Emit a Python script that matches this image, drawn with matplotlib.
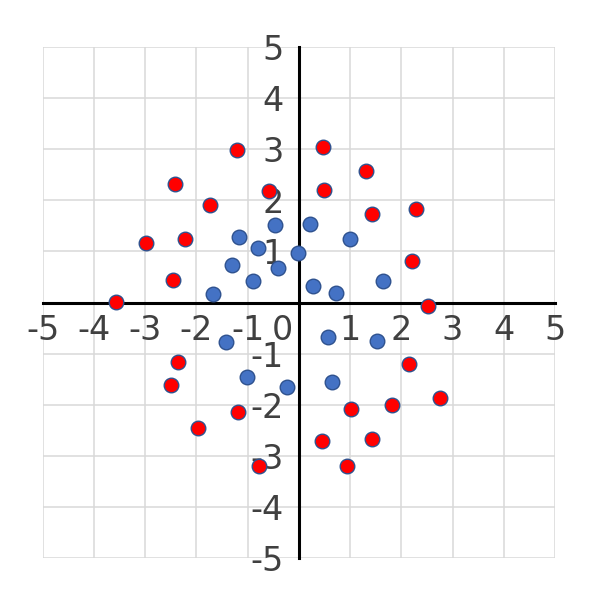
import numpy as np
import matplotlib
matplotlib.use("Agg")
import matplotlib.pyplot as plt
from matplotlib.transforms import ScaledTranslation

# red points (outer ring)
red_x = [-1.20, -2.41, -0.59, -1.74, -2.99, -2.23, -2.45, -3.57,
         0.48, 1.31, 0.50, 1.43, 2.29, 2.21, 2.53,
         -2.36, -2.49, -1.18, -1.96, -0.77,
         2.16, 2.75, 1.01, 1.82, 0.46, 1.43, 0.94]
red_y = [2.99, 2.33, 2.18, 1.91, 1.16, 1.25, 0.44, 0.02,
         3.04, 2.58, 2.21, 1.73, 1.84, 0.82, -0.06,
         -1.17, -1.61, -2.15, -2.45, -3.20,
         -1.20, -1.86, -2.08, -2.00, -2.71, -2.67, -3.20]

# blue points (inner cluster)
blue_x = [-0.47, -1.16, -0.79, -1.31, -0.40, -0.89, -1.67,
          0.21, 0.99, -0.01, 0.28, 0.72, 1.65,
          -1.43, -1.01, -0.23,
          0.57, 1.53, 0.65]
blue_y = [1.52, 1.29, 1.06, 0.73, 0.68, 0.43, 0.17,
          1.54, 1.24, 0.97, 0.33, 0.19, 0.42,
          -0.78, -1.45, -1.66,
          -0.68, -0.76, -1.56]

ticks = np.arange(-5, 6)

fig = plt.figure(figsize=(6.07, 5.92), dpi=100)
ax = fig.add_axes([0.0703, 0.0574, 0.844, 0.863])

ax.set_xlim(-5, 5)
ax.set_ylim(-5, 5)
ax.set_xticks(ticks)
ax.set_yticks(ticks)
ax.set_xticklabels([str(t) for t in ticks])
ax.set_yticklabels(["" if t == 0 else str(t) for t in ticks])
ax.grid(True, color="#d9d9d9", linewidth=1.1)
ax.set_axisbelow(True)

for s in ["top", "right"]:
    ax.spines[s].set_visible(False)
ax.spines["left"].set_position("zero")
ax.spines["bottom"].set_position("zero")
ax.spines["left"].set_linewidth(2.2)
ax.spines["bottom"].set_linewidth(2.2)
ax.spines["left"].set_zorder(1.5)
ax.spines["bottom"].set_zorder(1.5)
ax.tick_params(length=0, labelsize=24, labelcolor="#404040")
ax.tick_params(axis="x", pad=8)
ax.tick_params(axis="y", pad=11)

# the "0" label sits just left of the vertical axis
zero_lab = ax.get_xticklabels()[5]
zero_lab.set_horizontalalignment("right")
zero_lab.set_transform(zero_lab.get_transform()
                       + ScaledTranslation(-4 / 72, 0, fig.dpi_scale_trans))

ax.scatter(blue_x, blue_y, s=110, color="#4472c4", edgecolor="#2f528f",
           linewidth=1.0, zorder=3)
ax.scatter(red_x, red_y, s=110, color="#ff0000", edgecolor="#2f528f",
           linewidth=1.0, zorder=3)

fig.savefig("out.png", dpi=100)
